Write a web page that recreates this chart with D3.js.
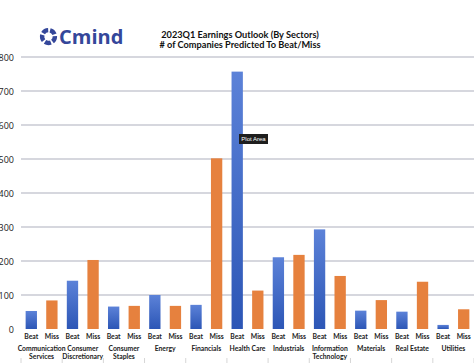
<!DOCTYPE html>
<html><head><meta charset="utf-8">
<script src="https://cdn.jsdelivr.net/npm/d3@7"></script>
<style>body{margin:0;background:#fff}svg{display:block;font-family:Lato,"Open Sans",sans-serif}</style>
</head><body><svg id="c" width="474" height="363"></svg>
<script>
const sectors = ["Communication Services","Consumer Discretionary","Consumer Staples","Energy","Financials","Health Care","Industrials","Information Technology","Materials","Real Estate","Utilities"];
const sectorLines = [["Communication","Services"],["Consumer","Discretionary"],["Consumer","Staples"],["Energy"],["Financials"],["Health Care"],["Industrials"],["Information","Technology"],["Materials"],["Real Estate"],["Utilities"]];
const beat = [53,142,66,100,71,757,211,293,54,51,12];
const miss = [84,203,68,68,502,113,218,156,85,139,58];
const yTicks = [0,100,200,300,400,500,600,700,800];
const titleLines = ["2023Q1 Earnings Outlook (By Sectors)","# of Companies Predicted To Beat/Miss"];

const svg = d3.select("#c");
const lab = "Lato,'Open Sans',sans-serif";
const defs = svg.append("defs");
const g1 = defs.append("linearGradient").attr("id","gb").attr("x1",0).attr("y1",0).attr("x2",0).attr("y2",1);
g1.append("stop").attr("offset","0%").attr("stop-color","#5c82d8");
g1.append("stop").attr("offset","100%").attr("stop-color","#2c56b6");

const cols = [];
sectors.forEach((s,i)=>{cols.push({s,k:"Beat",v:beat[i],id:i*2});cols.push({s,k:"Miss",v:miss[i],id:i*2+1});});

const x = d3.scaleBand().domain(cols.map(d=>d.id)).range([21,474]).paddingInner(0.45).paddingOuter(0.225);
const xc = d3.scaleBand().domain(sectors).range([21,474]);
const y = d3.scaleLinear().domain([0,800]).range([329,57]);

// gridlines
svg.append("g").selectAll("line").data(yTicks.filter(t=>t>0)).join("line")
  .attr("x1",21).attr("x2",474).attr("y1",d=>y(d)).attr("y2",d=>y(d))
  .attr("stroke","#c9cad3").attr("stroke-width",1.5);

// y axis labels
const ya = svg.append("g").attr("transform","translate(14,0)")
  .call(d3.axisLeft(y).tickValues(yTicks).tickSize(0).tickPadding(0));
ya.select(".domain").remove();
ya.selectAll("text").attr("font-size",9).attr("fill","#222").attr("font-family","'Open Sans',sans-serif").attr("dy","0.35em");

// bars
svg.append("g").selectAll("rect").data(cols).join("rect")
  .attr("x",d=>x(d.id)).attr("width",x.bandwidth())
  .attr("y",d=>y(d.v)).attr("height",d=>y(0)-y(d.v))
  .attr("fill",d=>d.k==="Beat"?"url(#gb)":"#e6813e");

// x labels Beat/Miss
const xa = svg.append("g").attr("transform","translate(0,334)")
  .call(d3.axisBottom(x).tickSize(0).tickPadding(0).tickFormat(id=>cols[id].k));
xa.select(".domain").remove();
xa.selectAll("text").attr("font-size",6.8).attr("font-weight","bold").attr("fill","#222").attr("dy","0.71em").attr("font-family",lab);

// category labels
const cg = svg.append("g").selectAll("text").data(sectors).join("text")
  .attr("x",d=>xc(d)+xc.bandwidth()/2).attr("y",351)
  .attr("text-anchor","middle").attr("font-size",6.8).attr("font-weight","bold").attr("fill","#222").attr("font-family",lab);
cg.each(function(d,i){
  const t=d3.select(this);
  sectorLines[i].forEach((l,j)=>t.append("tspan").attr("x",xc(d)+xc.bandwidth()/2).attr("dy",j?8:0).text(l));
});
// separators
svg.append("g").selectAll("line").data(d3.range(sectors.length+1)).join("line")
  .attr("x1",i=>21+i*xc.bandwidth()).attr("x2",i=>21+i*xc.bandwidth())
  .attr("y1",358).attr("y2",363).attr("stroke","#d6d6d6").attr("stroke-width",1);

// title
svg.append("g").selectAll("text").data(titleLines).join("text")
  .attr("x",240).attr("y",(d,i)=>37.5+i*10.8).attr("text-anchor","middle")
  .attr("font-size",9.2).attr("font-weight","bold").attr("fill","#111").attr("font-family",lab).text(d=>d);

// logo
const logo = svg.append("g").attr("transform","translate(48.5,36.5)");
const arc = d3.arc().innerRadius(4.2).outerRadius(8.6);
for(let k=0;k<5;k++){
  const a0 = k*2*Math.PI/5;
  logo.append("path").attr("d",arc({startAngle:a0+0.25,endAngle:a0+2*Math.PI/5-0.05})).attr("fill","#34479a");
}
svg.append("text").attr("x",59).attr("y",44).attr("font-size",20).attr("font-weight","bold")
  .attr("fill","#34479a").attr("font-family","'Open Sans',sans-serif").text("Cmind");

// Plot Area tooltip
svg.append("rect").attr("x",239).attr("y",134).attr("width",29).attr("height",10).attr("fill","#1e1e1e");
svg.append("text").attr("x",253.5).attr("y",141.3).attr("text-anchor","middle").attr("font-size",6)
  .attr("fill","#fff").attr("font-family","'Liberation Sans',sans-serif").text("Plot Area");
</script></body></html>
